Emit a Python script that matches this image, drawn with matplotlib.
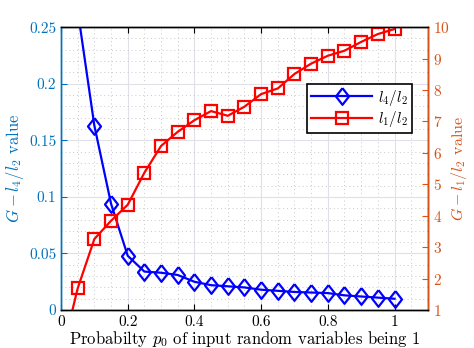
import numpy as np
import matplotlib
matplotlib.use("Agg")
import matplotlib.pyplot as plt

plt.rcParams["font.family"] = "serif"
plt.rcParams["font.serif"] = ["cmr10", "DejaVu Serif"]
plt.rcParams["mathtext.fontset"] = "cm"
plt.rcParams["axes.formatter.use_mathtext"] = True

# データ
p0 = [0.0, 0.05, 0.1, 0.15, 0.2, 0.25, 0.3, 0.35, 0.4, 0.45, 0.5,
      0.55, 0.6, 0.65, 0.7, 0.75, 0.8, 0.85, 0.9, 0.95, 1.0]
l4_l2 = [5.0, 0.265, 0.163, 0.094, 0.048, 0.034, 0.033, 0.031, 0.025, 0.022, 0.021,
         0.020, 0.018, 0.017, 0.016, 0.0155, 0.015, 0.013, 0.012, 0.011, 0.010]
l1_l2 = [-0.5, 1.69, 3.26, 3.84, 4.35, 5.37, 6.22, 6.67, 7.04, 7.33, 7.18,
         7.47, 7.87, 8.05, 8.51, 8.84, 9.09, 9.25, 9.53, 9.78, 9.94]

xticks = [0, 0.2, 0.4, 0.6, 0.8, 1.0]
xticklabels = ["0", "0.2", "0.4", "0.6", "0.8", "1"]
yticks_left = [0, 0.05, 0.1, 0.15, 0.2, 0.25]
yticklabels_left = ["0", "0.05", "0.1", "0.15", "0.2", "0.25"]
yticks_right = list(range(1, 11))

c_left = "#0072BD"
c_right = "#D95319"

diamond = [(0, 1), (0.78, 0), (0, -1), (-0.78, 0), (0, 1)]

fig = plt.figure(figsize=(4.74, 3.48), dpi=100)
ax = fig.add_axes([0.1287, 0.109, 0.774, 0.813])
ax2 = ax.twinx()

ln1, = ax.plot(p0, l4_l2, color="blue", lw=1.6, marker=diamond, ms=12,
               mfc="none", mew=1.6, label=r"$l_4/l_2$")
ln2, = ax2.plot(p0, l1_l2, color="red", lw=1.6, marker="s", ms=8,
                mfc="none", mew=1.6, label=r"$l_1/l_2$")

ax.set_xlim(0, 1.1)
ax.set_ylim(0, 0.25)
ax2.set_ylim(1, 10)

ax.set_xticks(xticks)
ax.set_xticklabels(xticklabels)
ax.set_yticks(yticks_left)
ax.set_yticklabels(yticklabels_left)
ax2.set_yticks(yticks_right)

ax.set_xticks(np.arange(0, 1.11, 0.05), minor=True)
ax.set_yticks(np.arange(0, 0.251, 0.01), minor=True)
ax.grid(True, which="major", color="#dfe1e6", lw=0.8)
ax.grid(True, which="minor", color="#c8c8c8", lw=0.7, ls=(0, (1, 3)))
ax.set_axisbelow(True)

ax.tick_params(which="minor", length=0)
ax.tick_params(axis="x", which="major", direction="in", length=4, top=True,
               labelsize=11, colors="black")
ax.tick_params(axis="y", which="major", direction="in", length=4,
               labelsize=11, colors=c_left)
ax2.tick_params(axis="y", direction="in", length=4, labelsize=11, colors=c_right)

ax.spines["left"].set_color(c_left)
ax2.spines["left"].set_color(c_left)
ax2.spines["right"].set_color(c_right)
for a in (ax, ax2):
    for s in a.spines.values():
        s.set_linewidth(1.0)

ax.set_xlabel(r"Probabilty $p_0$ of input random variables being 1", fontsize=12, labelpad=0)
ax.set_ylabel(r"$G-l_4/l_2$ value", fontsize=12, color=c_left, labelpad=2)
ax2.set_ylabel(r"$G-l_1/l_2$ value", fontsize=11.5, color=c_right, rotation=90, labelpad=0)

leg = ax2.legend(handles=[ln1, ln2], loc="upper right", bbox_to_anchor=(0.957, 0.80),
                 borderaxespad=0, fancybox=False, edgecolor="black", framealpha=1,
                 fontsize=11, handlelength=4, borderpad=0.25, labelspacing=0.1,
                 handletextpad=0.4)
leg.get_frame().set_linewidth(1.2)

plt.savefig("out.png", dpi=100)
